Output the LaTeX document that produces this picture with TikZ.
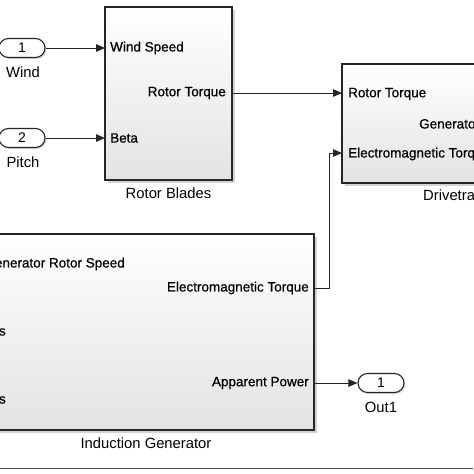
\documentclass[tikz,border=0pt]{standalone}
\usepackage{fontspec}
\setmainfont{Liberation Sans}
\newfontfamily\portfont[FakeBold=0.6]{Liberation Sans}
\usetikzlibrary{arrows.meta,shapes.misc,shadows,positioning}
\begin{document}
\begin{tikzpicture}[x=1pt,y=-1pt,
  blockbox/.style={draw=black!85,line width=1.2pt,inner sep=0pt,
    top color=white,bottom color=black!11,
    drop shadow={shadow xshift=2.5pt,shadow yshift=-2.5pt,opacity=0.35}},
  portbox/.style={rounded rectangle,draw=black!85,line width=1.1pt,fill=white,
    minimum width=46pt,minimum height=19pt,inner sep=0pt,font=\fontsize{14}{16}\selectfont,
    drop shadow={shadow xshift=1.5pt,shadow yshift=-1.5pt,opacity=0.3}},
  porttext/.style={inner sep=0pt,font=\portfont\fontsize{13.5}{15}\selectfont},
  blocktitle/.style={inner sep=0pt,font=\fontsize{14.8}{17}\selectfont},
  link/.style={draw=black!85,line width=0.9pt},
  arrowlink/.style={link,-{Triangle[length=9pt,width=7.5pt]}}]
\useasboundingbox (0,0) rectangle (474,474);
\fill[white] (0,0) rectangle (474,474);
\clip (0,0) rectangle (474,474);

% blocks
\node[blockbox,minimum width=127pt,minimum height=173pt] (rb) at (168.5,93.5) {};
\node[blockbox,minimum width=190pt,minimum height=119pt] (dt) at (437,123.5) {};
\node[blockbox,minimum width=374pt,minimum height=196pt] (ig) at (127,332) {};

% block titles
\node[blocktitle] (rbt) at (168.5,193) {Rotor Blades};
\node[blocktitle,anchor=west] (dtt) at (423,195) {Drivetrain};
\node[blocktitle] (igt) at (146,443) {Induction Generator};

% ports
\node[portbox] (wind) at (22,48) {1};
\node[blocktitle] (windl) at (23,72) {Wind};
\node[portbox] (pitch) at (22,138) {2};
\node[blocktitle] (pitchl) at (23,162) {Pitch};
\node[portbox] (out) at (381,383) {1};
\node[blocktitle] (outl) at (381,407) {Out1};

% port labels: rotor blades
\node[porttext,anchor=west] (rbws) at (110,48) {Wind Speed};
\node[porttext,anchor=west] (rbb) at (110,138) {Beta};
\node[porttext,anchor=east] (rbrt) at (226,93) {Rotor Torque};
% drivetrain
\node[porttext,anchor=west] (dtrt) at (348,94) {Rotor Torque};
\node[porttext,anchor=west] (dtgs) at (419,125) {Generator Speed};
\node[porttext,anchor=west] (dtet) at (348,154) {Electromagnetic Torque};
% induction generator
\node[porttext,anchor=east] (iggs) at (125,264) {Generator Rotor Speed};
\node[porttext,anchor=east] (igs1) at (6,332) {s};
\node[porttext,anchor=east] (igs2) at (6,400) {s};
\node[porttext,anchor=east] (iget) at (309,288) {Electromagnetic Torque};
\node[porttext,anchor=east] (igap) at (309,383) {Apparent Power};

% connectors
\coordinate (rbin1) at (105,48);
\coordinate (rbin2) at (105,138);
\coordinate (rbout) at (232,93);
\coordinate (dtin1) at (342,93);
\coordinate (dtin2) at (342,153);
\coordinate (igout1) at (314,288);
\coordinate (igout2) at (314,383);
\coordinate (bend1) at (329,288);
\coordinate (bend2) at (329,153);
\draw[arrowlink] (wind.east) -- (rbin1);
\draw[arrowlink] (pitch.east) -- (rbin2);
\draw[arrowlink] (rbout) -- (dtin1);
\draw[arrowlink] (igout1) -- (bend1) -- (bend2) -- (dtin2);
\draw[arrowlink] (igout2) -- (out.west);

% bottom frame line
\coordinate (fl) at (0,468);
\coordinate (fr) at (473,468);
\draw[draw=black!70,line width=1pt] (fl) -- (fr);
\end{tikzpicture}
\end{document}
